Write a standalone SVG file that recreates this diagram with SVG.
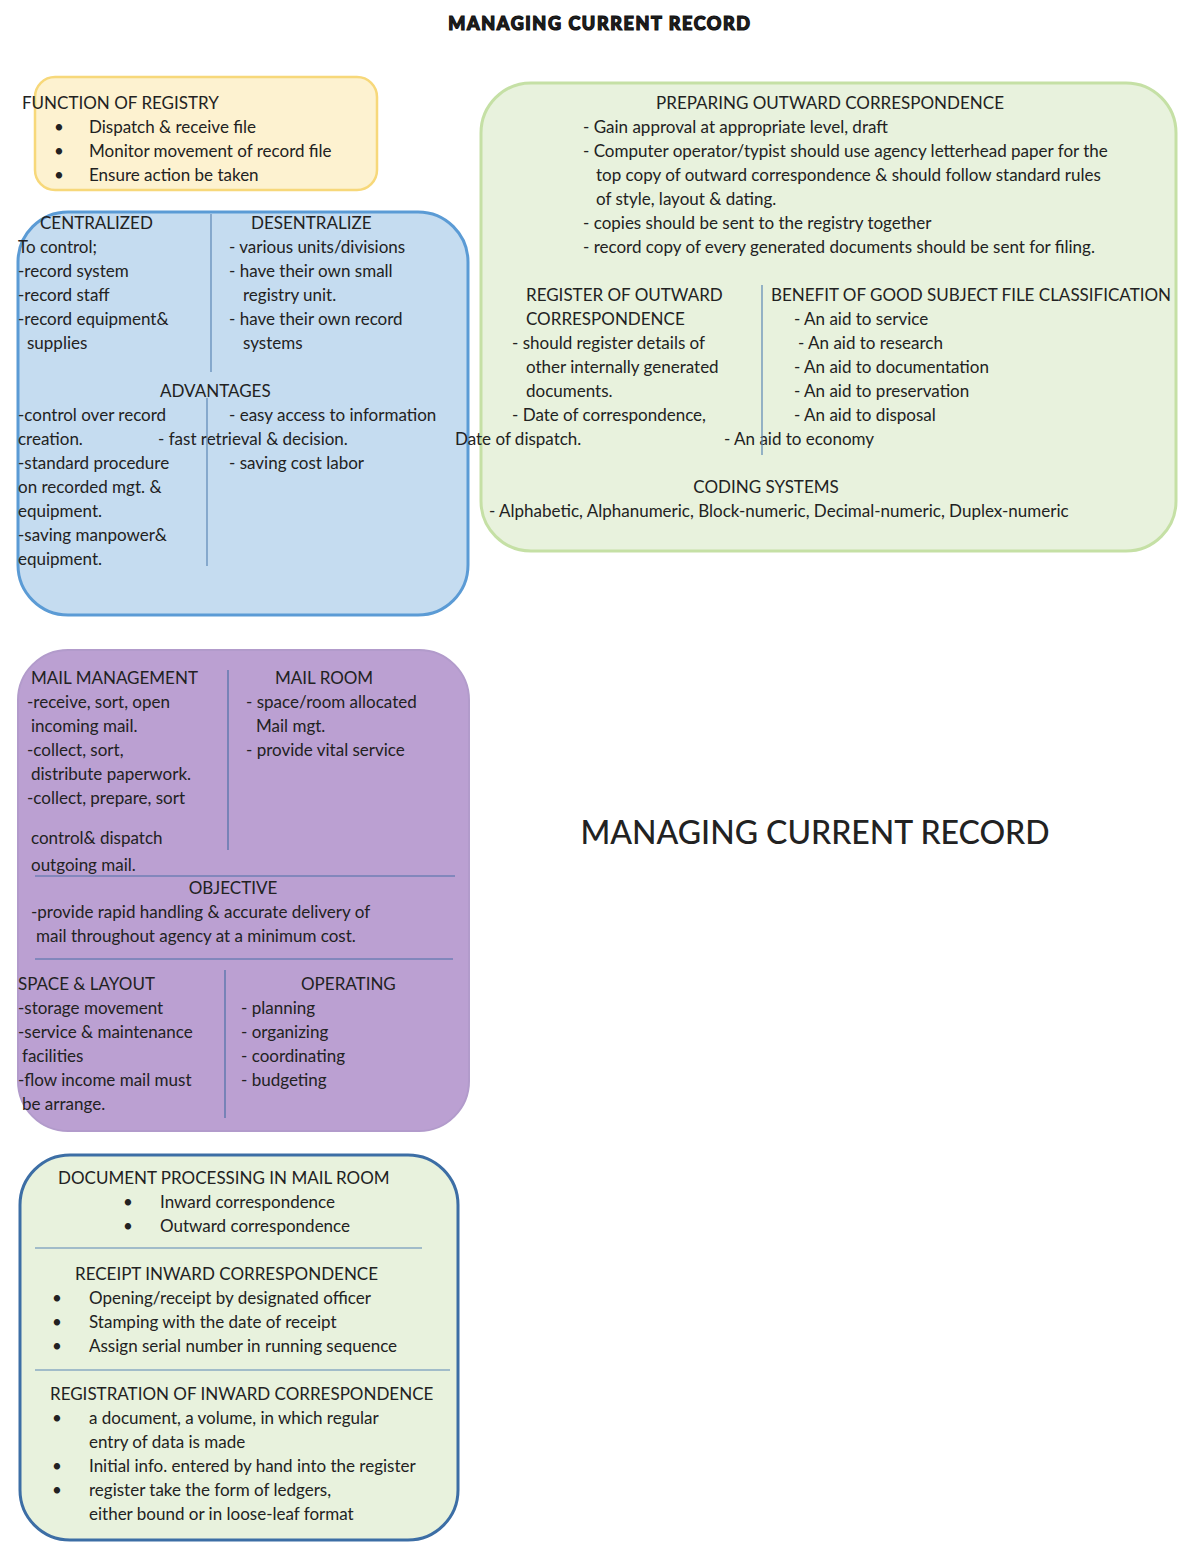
<svg xmlns="http://www.w3.org/2000/svg" width="1200" height="1553" viewBox="0 0 1200 1553">
<style>
text{font-family:Lato,"Liberation Sans",sans-serif;font-size:17px;fill:#222}
.t{font-weight:900;font-size:18px;letter-spacing:1.6px}
.big{font-size:32px;font-weight:500}
.c{text-anchor:middle}
.ln{stroke:#5b86b5;stroke-width:1.2}
.lp{stroke:#4a6fa5;stroke-width:1.2}
</style>
<rect width="1200" height="1553" fill="#fff"/>
<text class="t c" x="600" y="30" stroke="#111" stroke-width="1.2">MANAGING CURRENT RECORD</text>

<g id="registry">
<rect x="35" y="77" width="342" height="113" rx="20" fill="#fdf2d0" stroke="#f7d87a" stroke-width="2.5"/>
<text x="22" y="109">FUNCTION OF REGISTRY</text>
<text x="54" y="133">•</text><text x="89" y="133">Dispatch &amp; receive file</text>
<text x="54" y="157">•</text><text x="89" y="157">Monitor movement of record file</text>
<text x="54" y="181">•</text><text x="89" y="181">Ensure action be taken</text>
</g>

<g id="centralized">
<rect x="18" y="212" width="450" height="403" rx="50" fill="#c5dcf0" stroke="#5b9bd5" stroke-width="3"/>
<text x="40" y="229">CENTRALIZED</text>
<text x="251" y="229">DESENTRALIZE</text>
<text x="18" y="253">To control;</text>
<text x="18" y="277">-record system</text>
<text x="18" y="301">-record staff</text>
<text x="18" y="325">-record equipment&amp;</text>
<text x="27" y="349">supplies</text>
<text x="229" y="253">- various units/divisions</text>
<text x="229" y="277">- have their own small</text>
<text x="243" y="301">registry unit.</text>
<text x="229" y="325">- have their own record</text>
<text x="243" y="349">systems</text>
<text x="160" y="397">ADVANTAGES</text>
<text x="18" y="421">-control over record</text>
<text x="229" y="421">- easy access to information</text>
<text x="18" y="445">creation.</text>
<text x="158" y="445">- fast retrieval &amp; decision.</text>
<text x="18" y="469">-standard procedure</text>
<text x="229" y="469">- saving cost labor</text>
<text x="18" y="493">on recorded mgt. &amp;</text>
<text x="18" y="517">equipment.</text>
<text x="18" y="541">-saving manpower&amp;</text>
<text x="18" y="565">equipment.</text>
<line class="ln" x1="211" y1="214" x2="211" y2="372"/>
<line class="ln" x1="207" y1="398" x2="207" y2="566"/>
</g>

<g id="outward">
<rect x="481" y="83" width="695" height="468" rx="50" fill="#e8f2dd" stroke="#c5e0a5" stroke-width="3"/>
<text class="c" x="830" y="109">PREPARING OUTWARD CORRESPONDENCE</text>
<text x="583" y="133">- Gain approval at appropriate level, draft</text>
<text x="583" y="157">- Computer operator/typist should use agency letterhead paper for the</text>
<text x="596" y="181">top copy of outward correspondence &amp; should follow standard rules</text>
<text x="596" y="205">of style, layout &amp; dating.</text>
<text x="583" y="229">- copies should be sent to the registry together</text>
<text x="583" y="253">- record copy of every generated documents should be sent for filing.</text>
<text x="526" y="301">REGISTER OF OUTWARD</text>
<text x="526" y="325">CORRESPONDENCE</text>
<text x="512" y="349">- should register details of</text>
<text x="526" y="373">other internally generated</text>
<text x="526" y="397">documents.</text>
<text x="512" y="421">- Date of correspondence,</text>
<text x="455" y="445">Date of dispatch.</text>
<text x="771" y="301">BENEFIT OF GOOD SUBJECT FILE CLASSIFICATION</text>
<text x="794" y="325">- An aid to service</text>
<text x="798" y="349">- An aid to research</text>
<text x="794" y="373">- An aid to documentation</text>
<text x="794" y="397">- An aid to preservation</text>
<text x="794" y="421">- An aid to disposal</text>
<text x="724" y="445">- An aid to economy</text>
<line class="ln" x1="762" y1="285" x2="762" y2="455" stroke="#7a9cc0"/>
<text class="c" x="766" y="493">CODING SYSTEMS</text>
<text x="489" y="517">- Alphabetic, Alphanumeric, Block-numeric, Decimal-numeric, Duplex-numeric</text>
</g>

<g id="mail">
<rect x="18" y="650" width="451" height="481" rx="50" fill="#bba0d2" stroke="#b29bcb" stroke-width="2"/>
<text x="31" y="684">MAIL MANAGEMENT</text>
<text x="275" y="684">MAIL ROOM</text>
<text x="27" y="708">-receive, sort, open</text>
<text x="31" y="732">incoming mail.</text>
<text x="27" y="756">-collect, sort,</text>
<text x="31" y="780">distribute paperwork.</text>
<text x="27" y="804">-collect, prepare, sort</text>
<text x="31" y="844">control&amp; dispatch</text>
<text x="31" y="871">outgoing mail.</text>
<text x="246" y="708">- space/room allocated</text>
<text x="256" y="732">Mail mgt.</text>
<text x="246" y="756">- provide vital service</text>
<line class="lp" x1="228" y1="670" x2="228" y2="850"/>
<line class="lp" x1="35" y1="876" x2="455" y2="876"/>
<text class="c" x="233" y="894">OBJECTIVE</text>
<text x="31" y="918">-provide rapid handling &amp; accurate delivery of</text>
<text x="36" y="942">mail throughout agency at a minimum cost.</text>
<line class="lp" x1="35" y1="959" x2="453" y2="959"/>
<text x="18" y="990">SPACE &amp; LAYOUT</text>
<text x="301" y="990">OPERATING</text>
<text x="18" y="1014">-storage movement</text>
<text x="18" y="1038">-service &amp; maintenance</text>
<text x="22" y="1062">facilities</text>
<text x="18" y="1086">-flow income mail must</text>
<text x="22" y="1110">be arrange.</text>
<text x="241" y="1014">- planning</text>
<text x="241" y="1038">- organizing</text>
<text x="241" y="1062">- coordinating</text>
<text x="241" y="1086">- budgeting</text>
<line class="lp" x1="225" y1="970" x2="225" y2="1118"/>
</g>

<text class="big c" x="815" y="844">MANAGING CURRENT RECORD</text>

<g id="processing">
<rect x="20" y="1155" width="438" height="385" rx="50" fill="#e8f2dd" stroke="#3c6ea5" stroke-width="3"/>
<text x="58" y="1184">DOCUMENT PROCESSING IN MAIL ROOM</text>
<text x="123" y="1208">•</text><text x="160" y="1208">Inward correspondence</text>
<text x="123" y="1232">•</text><text x="160" y="1232">Outward correspondence</text>
<line class="ln" x1="35" y1="1248" x2="422" y2="1248"/>
<text x="75" y="1280">RECEIPT INWARD CORRESPONDENCE</text>
<text x="52" y="1304">•</text><text x="89" y="1304">Opening/receipt by designated officer</text>
<text x="52" y="1328">•</text><text x="89" y="1328">Stamping with the date of receipt</text>
<text x="52" y="1352">•</text><text x="89" y="1352">Assign serial number in running sequence</text>
<line class="ln" x1="35" y1="1370" x2="450" y2="1370"/>
<text x="50" y="1400">REGISTRATION OF INWARD CORRESPONDENCE</text>
<text x="52" y="1424">•</text><text x="89" y="1424">a document, a volume, in which regular</text>
<text x="89" y="1448">entry of data is made</text>
<text x="52" y="1472">•</text><text x="89" y="1472">Initial info. entered by hand into the register</text>
<text x="52" y="1496">•</text><text x="89" y="1496">register take the form of ledgers,</text>
<text x="89" y="1520">either bound or in loose-leaf format</text>
</g>
<g id="connectors"/>
</svg>
